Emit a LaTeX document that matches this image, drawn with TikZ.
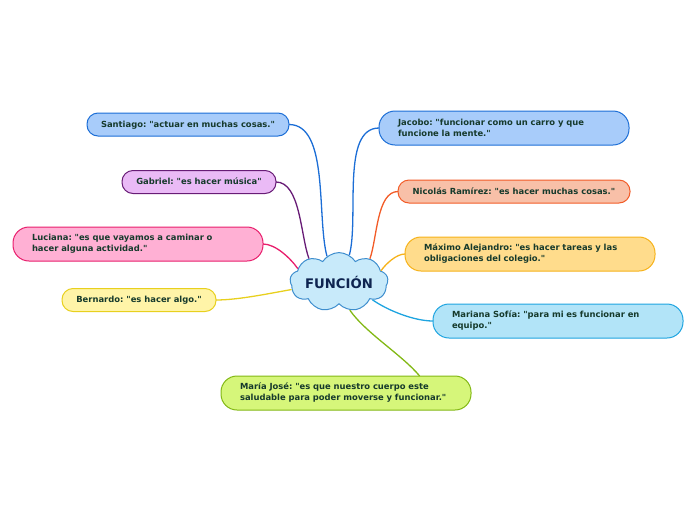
\documentclass[tikz,border=0pt]{standalone}
\usepackage{fontspec}
\setmainfont{DejaVu Sans}[Ligatures=TeXOff]
\usetikzlibrary{shapes.symbols}
\frenchspacing

\definecolor{ideatext}{RGB}{22,58,44}
\definecolor{roottext}{RGB}{14,36,80}
\definecolor{blueline}{RGB}{28,110,214}
\definecolor{bluefill}{RGB}{168,204,250}
\definecolor{purpleline}{RGB}{104,28,118}
\definecolor{purplefill}{RGB}{234,186,246}
\definecolor{pinkline}{RGB}{232,30,108}
\definecolor{pinkfill}{RGB}{255,176,212}
\definecolor{yellowline}{RGB}{232,208,30}
\definecolor{yellowfill}{RGB}{255,244,168}
\definecolor{orangeline}{RGB}{242,92,40}
\definecolor{orangefill}{RGB}{248,192,168}
\definecolor{goldline}{RGB}{246,178,26}
\definecolor{goldfill}{RGB}{255,220,140}
\definecolor{skyline}{RGB}{30,164,224}
\definecolor{skyfill}{RGB}{178,228,248}
\definecolor{greenline}{RGB}{130,184,20}
\definecolor{greenfill}{RGB}{214,246,122}
\definecolor{cloudline}{RGB}{62,142,206}
\definecolor{cloudfill}{RGB}{200,234,250}

\tikzset{
  idea/.style 2 args={draw=#1, fill=#2, line width=1pt, text=ideatext,
    font=\bfseries\fontsize{8.4}{11}\selectfont, inner ysep=0pt, outer sep=0pt},
  oneline/.style={minimum height=23pt, rounded corners=11pt, align=center,
    text height=6.5pt, text depth=1pt},
  twoline/.style={minimum height=34pt, rounded corners=16pt, align=left,
    text width=212pt, inner xsep=19pt},
  link/.style={draw=#1, line width=1.3pt, looseness=0.75},
}

\begin{document}
\begin{tikzpicture}[x=1pt,y=1pt]
  \useasboundingbox (0,0) rectangle (696,-520);
  %% central topic
  \node[cloud, cloud puffs=9, cloud puff arc=115, aspect=2.2, draw=cloudline, fill=cloudfill,
    line width=1pt, minimum width=97pt, minimum height=43pt, inner sep=0pt,
    text=roottext, font=\bfseries\fontsize{13.2}{15}\selectfont] (fn) at (339,-282) {FUNCIÓN};
  %% left branches
  \node[idea={blueline}{bluefill}, oneline, minimum width=202pt] (santiago) at (188,-124.5)
    {Santiago: "actuar en muchas cosas."};
  \node[idea={purpleline}{purplefill}, oneline, minimum width=154pt] (gabriel) at (199,-182)
    {Gabriel: "es hacer música"};
  \node[idea={pinkline}{pinkfill}, twoline] (luciana) at (138,-244)
    {Luciana: "es que vayamos a caminar o\\hacer alguna actividad."};
  \node[idea={yellowline}{yellowfill}, oneline, minimum width=154pt] (bernardo) at (139,-300)
    {Bernardo: "es hacer algo."};
  %% right branches
  \node[idea={blueline}{bluefill}, twoline] (jacobo) at (504,-128)
    {Jacobo: "funcionar como un carro y que\\funcione la mente."};
  \node[idea={orangeline}{orangefill}, oneline, minimum width=232pt] (nicolas) at (514,-191.5)
    {Nicolás Ramírez: "es hacer muchas cosas."};
  \node[idea={goldline}{goldfill}, twoline] (maximo) at (530,-254)
    {Máximo Alejandro: "es hacer tareas y las\\obligaciones del colegio."};
  \node[idea={skyline}{skyfill}, twoline] (mariana) at (558,-321)
    {Mariana Sofía: "para mi es funcionar en\\equipo."};
  %% bottom branch
  \node[idea={greenline}{greenfill}, twoline] (mariajose) at (346,-393)
    {María José: "es que nuestro cuerpo este\\saludable para poder moverse y funcionar."};
  %% connectors
  \draw[link=blueline] (santiago.east) to[out=0,in=105] (fn.115);
  \draw[link=purpleline] (gabriel.east) to[out=0,in=110] (fn.142);
  \draw[link=pinkline] (luciana.east) to[out=0,in=125] (fn.162);
  \draw[link=yellowline] (bernardo.east) to[out=0,in=190] (fn.189);
  \draw[link=blueline] (jacobo.west) to[out=180,in=75] (fn.69);
  \draw[link=orangeline] (nicolas.west) to[out=180,in=70] (fn.37);
  \draw[link=goldline] (maximo.west) to[out=180,in=55] (fn.15);
  \draw[link=skyline] (mariana.west) to[out=180,in=-35] (fn.-28);
  \draw[link=greenline] (mariajose.13) to[out=130,in=-55] (fn.-69);
\end{tikzpicture}
\end{document}
